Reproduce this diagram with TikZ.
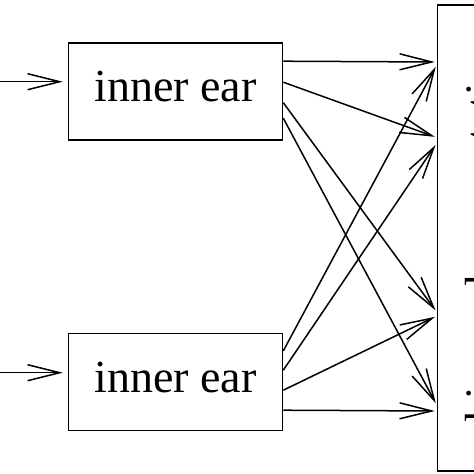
\documentclass[tikz,border=0pt]{standalone}
\usepackage{fontspec}
\setmainfont{Liberation Serif}
\usetikzlibrary{arrows.meta,calc}
\begin{document}
\begin{tikzpicture}[x=1pt,y=-1pt,
  earbox/.style={draw, line width=1.6pt, minimum width=214pt, minimum height=97pt,
    text height=31pt, text depth=10pt, inner sep=0pt, font=\fontsize{46}{50}\selectfont},
  bigbox/.style={draw, line width=1.6pt, minimum width=100pt, minimum height=466pt, inner sep=0pt},
  sig/.style={line width=1.5pt, -{Straight Barb[length=32pt,width=16pt]}, shorten >=2pt},
]
\fill[white] (0,0) rectangle (474,474);
\useasboundingbox (0,0) rectangle (474,474);
\clip (0,0) rectangle (474,474);

\node[earbox] (e1) at (175.5,91.3) {inner ear};
\node[earbox] (e2) at (175.5,382) {inner ear};
\node[bigbox, anchor=north west] (proc) at (436.7,4) {};
\node[rotate=90, anchor=base, inner sep=0pt, font=\fontsize{45}{50}\selectfont]
  (lab) at (496.5,230) {binaural computation};

% inputs
\coordinate (in1) at (0,81.7);
\coordinate (in2) at (0,372.7);
\draw[sig, shorten >=5pt] (in1) -- (in1 -| e1.west);
\draw[sig, shorten >=5pt] (in2) -- (in2 -| e2.west);

% ports
\foreach \n/\o in {1/19.2,2/40.2,3/60.7,4/76.2}
  \coordinate (s1\n) at ($(e1.north east)+(0,\o)$);
\foreach \n/\o in {1/18.2,2/37.5,3/57.5,4/77.5}
  \coordinate (s2\n) at ($(e2.north east)+(0,\o)$);
\foreach \n/\o in {1/58,2/133.5,3/308,4/401}
  \coordinate (t1\n) at ($(proc.north west)+(0,\o)$);
\foreach \n/\o in {1/61,2/139.3,3/312,4/407}
  \coordinate (t2\n) at ($(proc.north west)+(0,\o)$);

\draw[sig] (s11) -- (t11);
\draw[sig] (s12) -- (t12);
\draw[sig] (s13) -- (t13);
\draw[sig] (s14) -- (t14);
\draw[sig] (s21) -- (t21);
\draw[sig] (s22) -- (t22);
\draw[sig] (s23) -- (t23);
\draw[sig] (s24) -- (t24);
\end{tikzpicture}
\end{document}
